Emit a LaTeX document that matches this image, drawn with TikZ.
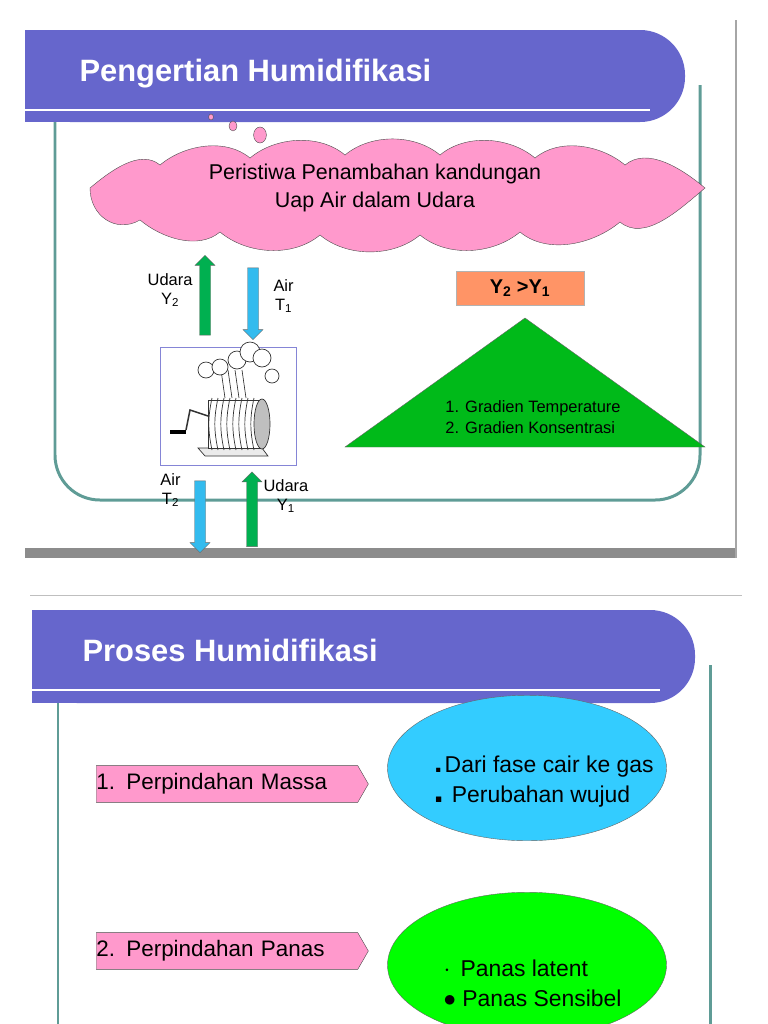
\documentclass[tikz,border=0pt]{standalone}
\usepackage{amssymb}
\usepackage{fontspec}
\setmainfont{Liberation Sans}
\usetikzlibrary{shapes.arrows,shapes.geometric}
\definecolor{hdr}{HTML}{6666CC}
\definecolor{frame}{HTML}{5F9C96}
\definecolor{pinkc}{HTML}{FF99CC}
\definecolor{upgreen}{HTML}{00B050}
\definecolor{downblue}{HTML}{33BBEE}
\definecolor{skyc}{HTML}{33CCFF}
\tikzset{
  title/.style={text=white,font=\bfseries\fontsize{31}{34}\selectfont,anchor=west},
  lbl/.style={font=\fontsize{16.5}{19}\selectfont,align=center},
  body/.style={font=\fontsize{23}{30}\selectfont,align=left,anchor=west},
  up arrow/.style={single arrow,draw=black!60,fill=upgreen,shape border rotate=90,
    minimum height=#1,minimum width=20,single arrow head extend=3,inner sep=3.5},
  down arrow/.style={single arrow,draw=black!60,fill=downblue,shape border rotate=270,
    minimum height=#1,minimum width=20,single arrow head extend=3,inner sep=3.5},
  proc step/.style={single arrow,draw=black!70,fill=pinkc,minimum height=265,minimum width=37,
    single arrow head extend=0,single arrow tip angle=120,inner sep=0,
    font=\fontsize{22.5}{24}\selectfont,text width=262,align=left},
  puff up/.style={out=40,in=140,looseness=0.9},
  puff down/.style={out=-140,in=-40,looseness=0.9},
}
\begin{document}
\begin{tikzpicture}[x=1bp,y=-1bp]
\useasboundingbox (0,0) rectangle (768,1024);

% slide 1
\fill[black!45] (25,548) rectangle (736,558);
\draw[black!35,line width=1.5] (736,20) -- (736,558);
\draw[frame,line width=3,rounded corners=45] (700,85) -- (700,500) -- (55,500) -- (55,120);
\fill[hdr,rounded corners=45] (25,30) -- (685,30) -- (685,122) -- (25,122) [sharp corners] -- cycle;
\fill[hdr] (25,30) rectangle (100,122);
\draw[white,line width=2.5] (25,110) -- (650,110);
\node[title] (t1) at (76,74) {Pengertian Humidifikasi};

\foreach \x/\y/\r in {211/117/3,233/126/5,260/135/8}
  \draw[fill=pinkc,draw=black!70] (\x,\y) ellipse ({\r*0.8} and \r);
% cloud
\draw[black!70,fill=pinkc] (90,188)
  to[puff up] (160,165) to[puff up] (250,158) to[puff up] (345,155) to[puff up] (440,155)
  to[puff up] (535,158) to[puff up] (625,165) to[puff up] (705,188)
  to[puff down] (620,222) to[puff down] (520,232) to[puff down] (420,235)
  to[puff down] (320,235) to[puff down] (220,232) to[puff down] (140,220)
  to[out=-150,in=-90,looseness=1.2] (90,188);
\node[align=center,font=\fontsize{21.5}{29}\selectfont] (def) at (375,188)
  {Peristiwa Penambahan kandungan\\Uap Air dalam Udara};

\node[up arrow=80] (u2) at (205,298) {};
\node[down arrow=72] (a1) at (253,301) {};
\node[lbl,anchor=east] (lu2) at (196,290) {Udara\\Y\textsubscript{2}};
\node[lbl,anchor=west] (la1) at (270,296) {Air\\T\textsubscript{1}};

\node[draw=hdr!80,minimum width=136,minimum height=118,inner sep=0] (mach) at (228,406) {};
% humidifier sketch
\begin{scope}[black!80,line width=0.7]
  \draw[fill=black!8] (198,448) -- (262,448) -- (268,456) -- (205,456) -- cycle;
  \draw[fill=white] (208,400) rectangle (262,448);
  \foreach \x in {212,218,...,256} \draw (\x,398) to[bend right=12] (\x,450);
  \draw[fill=black!25] (262,424) ellipse (8 and 25);
  \draw[line width=1.5] (208,416) -- (190,410) -- (186,430);
  \draw[line width=4,black] (170,432) -- (186,432);
  \foreach \x in {225,232,239,246} \draw (\x,398) -- (\x-4,370);
  \foreach \x/\y/\r in {206/370/8,220/367/8,237/360/9,250/352/10,262/358/9,272/376/7}
    \draw[fill=white] (\x,\y) circle (\r);
\end{scope}

\node[down arrow=72] (a2) at (200,514) {};
\node[up arrow=75] (u1) at (252,512) {};
\node[lbl,anchor=east] (la2) at (184,490) {Air\\T\textsubscript{2}};
\node[lbl,anchor=west] (lu1) at (260,496) {Udara\\Y\textsubscript{1}};

\node[fill=orange!60!red!60,draw=black!30,minimum width=129,minimum height=34,
  font=\bfseries\fontsize{20}{22}\selectfont] (cmp) at (520,288) {Y\textsubscript{2} >Y\textsubscript{1}};
\fill[draw=black!60,fill=green!70!black!90!cyan] (525,318) -- (705,447) -- (345,447) -- cycle;
\node[lbl,font=\fontsize{16.5}{21}\selectfont,align=left] (grad) at (533,417)
  {1. Gradien Temperature\\2. Gradien Konsentrasi};

% slide 2
\draw[black!25] (30,595) -- (742,595);
\draw[frame,line width=3,rounded corners=45] (710,665) -- (710,1030);
\draw[frame,line width=3] (58,690) -- (58,1030);
\fill[hdr,rounded corners=45] (32,610) -- (695,610) -- (695,703) -- (32,703) [sharp corners] -- cycle;
\fill[hdr] (32,610) rectangle (100,703);
\draw[white,line width=2.5] (32,690) -- (660,690);
\node[title] (t2) at (79,650) {Proses Humidifikasi};

\node[proc step] (s1) at (227,784) {1. Perpindahan Massa};
\node[proc step] (s2) at (227,951) {2. Perpindahan Panas};
\node[ellipse,draw=black!60,fill=skyc,minimum width=280,minimum height=146] (e1) at (527,768) {};
\node[body] (m1) at (432,782)
  {{\tiny$\blacksquare$}\,Dari fase cair ke gas\\ {\footnotesize$\blacksquare$}\, Perubahan wujud};
\node[ellipse,draw=black!60,fill=green,minimum width=280,minimum height=146] (e2) at (527,965) {};
\node[body] (m2) at (440,983)
  {$\cdot$\, Panas latent\\ $\bullet$ Panas Sensibel};
\end{tikzpicture}
\end{document}
